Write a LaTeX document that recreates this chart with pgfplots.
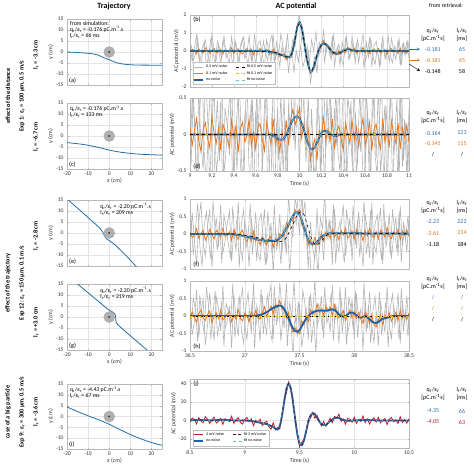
\documentclass[border=0pt]{standalone}
\usepackage{fontspec}
\setmainfont{Carlito}
\usepackage{pgfplots}
\usepackage{pgfplotstable}
\pgfplotsset{compat=1.18}
\definecolor{cgray}{RGB}{180,180,180}
\definecolor{corange}{RGB}{232,118,30}
\definecolor{cblue}{RGB}{28,96,165}
\definecolor{ccyan}{RGB}{90,195,235}
\definecolor{cyellow}{RGB}{237,177,32}
\definecolor{cred}{RGB}{195,25,35}
\definecolor{cdred}{RGB}{110,15,25}
\definecolor{ctraj}{RGB}{35,110,165}
\definecolor{tblue}{RGB}{45,110,180}
\definecolor{torange}{RGB}{215,120,35}
\newcommand{\fs}[1]{\fontsize{#1}{#1}\selectfont}
\newcommand{\sub}[1]{\textsubscript{#1}}

% ---------------- data ----------------
\pgfplotstableread[row sep=\\]{y\\ 0.42\\ -0.61\\ 0.15\\ 0.88\\ -0.34\\ -0.92\\ 0.27\\ 0.63\\ -0.18\\ -0.71\\ 0.95\\ 0.08\\ -0.47\\ 0.36\\ -0.83\\ 0.54\\ 0.21\\ -0.29\\ -0.66\\ 0.79\\ -0.12\\ 0.47\\ -0.95\\ 0.31\\ 0.69\\ -0.41\\ -0.07\\ 0.85\\ -0.58\\ 0.12\\ -0.77\\ 0.39\\ 0.58\\ -0.22\\ -0.89\\ 0.64\\ 0.00\\ -0.57\\ 0.84\\ -0.46\\ 0.03\\ -0.87\\ 0.26\\ -0.41\\ 0.42\\ -1.21\\ -0.04\\ 0.66\\ 0.27\\ 1.32\\ 2.17\\ 0.52\\ 0.93\\ -0.45\\ 0.01\\ -1.77\\ -0.96\\ -0.25\\ -1.21\\ 0.47\\ 0.16\\ 1.14\\ -0.15\\ 0.39\\ -0.30\\ 0.84\\ -0.84\\ 0.07\\ 0.37\\ -0.34\\ -0.82\\ 0.70\\ 0.15\\ -0.38\\ 0.82\\ -0.29\\ 0.41\\ -0.65\\ 0.19\\ 0.93\\ -0.57\\ -0.11\\ 0.68\\ -0.88\\ 0.29\\ 0.55\\ -0.23\\ -0.74\\ 0.86\\ -0.39\\ 0.13\\ -0.59\\ 0.71\\ 0.02\\ -0.49\\ 0.64\\ -0.81\\ 0.35\\ -0.16\\ 0.52\\ -0.44\\}\grayb
\pgfplotstableread[row sep=\\]{y\\ -0.07\\ 0.10\\ 0.04\\ -0.15\\ 0.12\\ -0.02\\ -0.10\\ 0.17\\ 0.05\\ -0.13\\ 0.02\\ 0.14\\ -0.11\\ -0.04\\ 0.09\\ -0.17\\ 0.07\\ 0.03\\ -0.06\\ 0.18\\ -0.13\\ 0.01\\ 0.12\\ -0.08\\ -0.16\\ 0.05\\ 0.13\\ -0.03\\ 0.10\\ -0.19\\ 0.06\\ -0.02\\ 0.15\\ -0.10\\ 0.04\\ 0.10\\ -0.11\\ -0.20\\ 0.10\\ -0.16\\ -0.06\\ -0.31\\ -0.21\\ -0.16\\ -0.49\\ -0.28\\ -0.34\\ 0.21\\ 0.61\\ 1.38\\ 1.45\\ 1.42\\ 0.66\\ -0.27\\ -0.66\\ -1.26\\ -1.03\\ -0.88\\ -0.16\\ 0.14\\ 0.27\\ 0.58\\ 0.33\\ 0.26\\ 0.21\\ -0.19\\ -0.05\\ -0.19\\ 0.03\\ -0.17\\ 0.05\\ -0.08\\ 0.21\\ 0.13\\ -0.03\\ 0.16\\ -0.12\\ 0.02\\ -0.05\\ 0.19\\ -0.09\\ 0.06\\ -0.15\\ 0.03\\ 0.11\\ -0.07\\ 0.14\\ -0.11\\ -0.01\\ 0.08\\ -0.18\\ 0.05\\ 0.13\\ -0.06\\ 0.02\\ -0.13\\ 0.16\\ -0.09\\ 0.04\\ -0.12\\ 0.07\\}\orangeb
\pgfplotstableread[row sep=\\]{y\\ -0.35\\ 0.52\\ 0.18\\ -0.74\\ 0.61\\ -0.12\\ -0.48\\ 0.83\\ 0.27\\ -0.66\\ 0.09\\ 0.71\\ -0.55\\ -0.21\\ 0.44\\ -0.87\\ 0.36\\ 0.13\\ -0.29\\ 0.92\\ -0.63\\ 0.05\\ 0.58\\ -0.41\\ -0.79\\ 0.24\\ 0.67\\ -0.15\\ 0.49\\ -0.93\\ 0.31\\ -0.08\\ 0.76\\ -0.52\\ 0.19\\ 0.62\\ -0.37\\ -0.71\\ 0.86\\ -0.27\\ 0.37\\ -0.71\\ 0.00\\ 0.50\\ -0.86\\ 0.41\\ -0.05\\ 1.01\\ -0.22\\ 0.41\\ -0.51\\ 0.74\\ 0.34\\ -0.38\\ 0.56\\ -0.76\\ -0.09\\ -1.08\\ 0.36\\ 0.18\\ -0.40\\ 0.83\\ -0.21\\ 0.07\\ 0.66\\ -0.70\\ 0.36\\ -0.15\\ 0.84\\ -0.51\\ 0.17\\ -0.82\\ 0.53\\ 0.26\\ -0.38\\ 0.72\\ -0.61\\ 0.09\\ -0.24\\ 0.96\\ -0.47\\ 0.32\\ -0.77\\ 0.14\\ 0.57\\ -0.33\\ 0.68\\ -0.54\\ -0.06\\ 0.41\\ -0.89\\ 0.25\\ 0.63\\ -0.28\\ 0.12\\ -0.67\\ 0.79\\ -0.44\\ 0.21\\ -0.58\\ 0.36\\}\grayd
\pgfplotstableread[row sep=\\]{y\\ 0.11\\ -0.15\\ 0.04\\ 0.22\\ -0.09\\ -0.23\\ 0.07\\ 0.16\\ -0.05\\ -0.18\\ 0.24\\ 0.02\\ -0.12\\ 0.09\\ -0.21\\ 0.14\\ 0.05\\ -0.07\\ -0.17\\ 0.20\\ -0.03\\ 0.12\\ -0.24\\ 0.08\\ 0.17\\ -0.10\\ -0.02\\ 0.21\\ -0.15\\ 0.03\\ -0.19\\ 0.10\\ 0.15\\ -0.06\\ -0.22\\ 0.17\\ 0.01\\ -0.13\\ 0.21\\ -0.13\\ -0.01\\ -0.24\\ 0.05\\ -0.09\\ 0.19\\ -0.15\\ 0.21\\ 0.35\\ 0.13\\ 0.24\\ 0.36\\ -0.05\\ 0.14\\ -0.10\\ 0.07\\ -0.35\\ -0.18\\ -0.06\\ -0.35\\ 0.05\\ -0.03\\ 0.23\\ -0.08\\ 0.07\\ -0.09\\ 0.21\\ -0.20\\ 0.04\\ 0.12\\ -0.07\\ -0.21\\ 0.16\\ 0.01\\ -0.12\\ 0.19\\ -0.08\\ 0.10\\ -0.16\\ 0.05\\ 0.23\\ -0.14\\ -0.03\\ 0.17\\ -0.22\\ 0.07\\ 0.14\\ -0.06\\ -0.19\\ 0.22\\ -0.10\\ 0.03\\ -0.15\\ 0.18\\ 0.01\\ -0.12\\ 0.16\\ -0.20\\ 0.09\\ -0.04\\ 0.13\\ -0.11\\}\oranged
\pgfplotstableread[row sep=\\]{y\\ -0.42\\ 0.61\\ -0.15\\ -0.88\\ 0.34\\ 0.92\\ -0.27\\ -0.63\\ 0.18\\ 0.71\\ -0.95\\ -0.08\\ 0.47\\ -0.36\\ 0.83\\ -0.54\\ -0.21\\ 0.29\\ 0.66\\ -0.79\\ 0.11\\ -0.49\\ 0.92\\ -0.35\\ -0.74\\ 0.35\\ -0.01\\ -0.94\\ 0.47\\ -0.24\\ 0.63\\ -0.54\\ -0.75\\ 0.04\\ 0.70\\ -0.86\\ -0.24\\ 0.31\\ -1.12\\ 0.16\\ -0.35\\ 0.57\\ -0.53\\ 0.19\\ -0.59\\ 1.13\\ 0.14\\ -0.09\\ 1.03\\ 0.65\\ -0.02\\ 1.18\\ -0.13\\ 0.25\\ -0.98\\ 0.35\\ -0.39\\ -0.73\\ 0.74\\ -0.52\\ 0.10\\ -0.76\\ 0.52\\ -0.13\\ 0.40\\ -0.89\\ 0.71\\ -0.23\\ -0.51\\ 0.27\\ 0.84\\ -0.62\\ -0.05\\ 0.46\\ -0.77\\ 0.31\\ -0.41\\ 0.65\\ -0.19\\ -0.93\\ 0.57\\ 0.11\\ -0.68\\ 0.88\\ -0.29\\ -0.55\\ 0.23\\ 0.74\\ -0.86\\ 0.39\\ -0.13\\ 0.59\\ -0.71\\ -0.02\\ 0.49\\ -0.64\\ 0.81\\ -0.35\\ 0.16\\ -0.52\\ 0.44\\}\grayf
\pgfplotstableread[row sep=\\]{y\\ 0.07\\ -0.10\\ -0.04\\ 0.15\\ -0.12\\ 0.02\\ 0.10\\ -0.17\\ -0.05\\ 0.13\\ -0.02\\ -0.14\\ 0.11\\ 0.04\\ -0.09\\ 0.17\\ -0.07\\ -0.03\\ 0.06\\ -0.18\\ 0.12\\ -0.03\\ -0.15\\ 0.04\\ 0.11\\ -0.11\\ -0.21\\ -0.06\\ -0.21\\ 0.07\\ -0.20\\ -0.13\\ -0.32\\ -0.08\\ -0.23\\ -0.32\\ -0.13\\ -0.06\\ -0.38\\ -0.14\\ -0.26\\ 0.01\\ -0.06\\ -0.06\\ 0.32\\ 0.20\\ 0.44\\ 0.36\\ 0.69\\ 0.59\\ 0.70\\ 0.28\\ 0.14\\ 0.07\\ -0.31\\ -0.16\\ -0.32\\ -0.10\\ -0.31\\ -0.19\\ -0.01\\ -0.20\\ 0.04\\ 0.00\\ -0.11\\ 0.14\\ -0.08\\ 0.03\\ -0.17\\ 0.10\\ -0.03\\ 0.16\\ -0.11\\ -0.05\\ 0.08\\ -0.14\\ 0.12\\ -0.02\\ 0.05\\ -0.19\\ 0.09\\ -0.06\\ 0.15\\ -0.03\\ -0.11\\ 0.07\\ -0.14\\ 0.11\\ 0.01\\ -0.08\\ 0.18\\ -0.05\\ -0.13\\ 0.06\\ -0.02\\ 0.13\\ -0.16\\ 0.09\\ -0.04\\ 0.12\\ -0.07\\}\orangef
\pgfplotstableread[row sep=\\]{y\\ 0.35\\ -0.52\\ -0.18\\ 0.74\\ -0.61\\ 0.12\\ 0.48\\ -0.83\\ -0.27\\ 0.66\\ -0.09\\ -0.71\\ 0.55\\ 0.21\\ -0.44\\ 0.87\\ -0.36\\ -0.13\\ 0.29\\ -0.92\\ 0.63\\ -0.05\\ -0.58\\ 0.41\\ 0.79\\ -0.24\\ -0.67\\ 0.15\\ -0.49\\ 0.93\\ -0.30\\ 0.10\\ -0.73\\ 0.57\\ -0.11\\ -0.51\\ 0.52\\ 0.90\\ -0.65\\ 0.49\\ -0.14\\ 0.94\\ 0.21\\ -0.35\\ 0.94\\ -0.41\\ -0.03\\ -1.16\\ 0.03\\ -0.61\\ 0.33\\ -0.89\\ -0.46\\ 0.26\\ -0.69\\ 0.63\\ -0.01\\ 1.04\\ -0.32\\ -0.06\\ 0.58\\ -0.63\\ 0.41\\ 0.12\\ -0.47\\ 0.88\\ -0.21\\ 0.25\\ -0.80\\ 0.51\\ -0.19\\ 0.82\\ -0.48\\ -0.17\\ 0.48\\ -0.65\\ 0.63\\ -0.12\\ 0.20\\ -0.98\\ 0.47\\ -0.35\\ 0.68\\ -0.29\\ -0.76\\ 0.13\\ -0.85\\ 0.42\\ -0.02\\ -0.47\\ 0.84\\ -0.28\\ -0.64\\ 0.28\\ -0.12\\ 0.67\\ -0.79\\ 0.44\\ -0.21\\ 0.58\\ -0.36\\}\grayh
\pgfplotstableread[row sep=\\]{y\\ -0.08\\ 0.12\\ -0.03\\ -0.18\\ 0.07\\ 0.18\\ -0.05\\ -0.13\\ 0.04\\ 0.14\\ -0.19\\ -0.02\\ 0.09\\ -0.07\\ 0.17\\ -0.11\\ -0.04\\ 0.06\\ 0.13\\ -0.16\\ 0.02\\ -0.09\\ 0.19\\ -0.06\\ -0.14\\ 0.08\\ 0.01\\ -0.17\\ 0.12\\ -0.02\\ 0.16\\ -0.06\\ -0.09\\ 0.09\\ 0.26\\ -0.02\\ 0.14\\ 0.29\\ 0.05\\ 0.33\\ 0.25\\ 0.44\\ 0.18\\ 0.23\\ -0.07\\ 0.10\\ -0.27\\ -0.47\\ -0.34\\ -0.44\\ -0.51\\ -0.14\\ -0.25\\ -0.03\\ -0.16\\ 0.18\\ 0.08\\ 0.04\\ 0.34\\ 0.09\\ 0.20\\ 0.01\\ 0.26\\ 0.13\\ 0.26\\ 0.01\\ 0.31\\ 0.07\\ -0.05\\ 0.05\\ 0.15\\ -0.12\\ 0.04\\ 0.18\\ -0.05\\ 0.13\\ -0.06\\ 0.10\\ -0.08\\ -0.21\\ 0.11\\ -0.01\\ -0.23\\ 0.03\\ -0.25\\ -0.31\\ -0.12\\ 0.03\\ -0.25\\ 0.02\\ -0.08\\ 0.09\\ -0.15\\ 0.00\\ 0.10\\ -0.13\\ 0.16\\ -0.07\\ 0.03\\ -0.10\\ 0.09\\}\orangeh
\pgfplotstableread[row sep=\\]{y\\ -1.8\\ 2.6\\ 0.9\\ -3.7\\ 3.1\\ -0.6\\ -2.4\\ 4.2\\ 1.4\\ -3.3\\ 0.5\\ 3.6\\ -2.8\\ -1.1\\ 2.2\\ -4.4\\ 1.8\\ 0.7\\ -1.5\\ 4.6\\ -3.2\\ 0.3\\ 2.9\\ -2.1\\ -4.0\\ 1.2\\ 3.1\\ -1.3\\ 1.7\\ -5.7\\ 0.1\\ -2.4\\ 1.3\\ -5.6\\ -2.5\\ -0.9\\ -6.9\\ -9.6\\ -2.6\\ -10.2\\ -7.8\\ -9.2\\ 5.4\\ 22.8\\ 29.7\\ 41.7\\ 34.0\\ 24.1\\ -0.3\\ -14.2\\ -28.7\\ -24.0\\ -20.6\\ -13.7\\ 1.5\\ 2.1\\ 8.6\\ 2.4\\ 5.4\\ 0.1\\ -6.1\\ -1.1\\ -6.3\\ -2.8\\ 2.3\\ -2.5\\ 4.4\\ 2.3\\ 6.8\\ -1.1\\ 1.4\\ -4.1\\ 2.2\\ 1.3\\ -1.9\\ 3.6\\ -3.1\\ 0.5\\ -1.2\\ 4.8\\ -2.4\\ 1.6\\ -3.9\\ 0.7\\ 2.9\\ -1.7\\ 3.4\\ -2.7\\ -0.3\\ 2.1\\ -4.5\\ 1.3\\ 3.2\\ -1.4\\ 0.6\\ -3.4\\ 4.0\\ -2.2\\ 1.1\\ -2.9\\ 1.8\\}\redj

\pgfplotstableread[row sep=\\]{t s\\ 9.00 0\\ 9.68 0\\ 9.70 -0.02\\ 9.72 -0.04\\ 9.74 -0.06\\ 9.76 -0.08\\ 9.78 -0.11\\ 9.80 -0.15\\ 9.82 -0.18\\ 9.84 -0.22\\ 9.86 -0.27\\ 9.88 -0.32\\ 9.90 -0.35\\ 9.92 -0.30\\ 9.94 0.05\\ 9.96 0.70\\ 9.98 1.35\\ 10.00 1.60\\ 10.02 1.30\\ 10.04 0.60\\ 10.06 -0.20\\ 10.08 -0.80\\ 10.10 -1.15\\ 10.12 -1.05\\ 10.14 -0.70\\ 10.16 -0.25\\ 10.18 0.10\\ 10.20 0.35\\ 10.22 0.42\\ 10.24 0.38\\ 10.26 0.25\\ 10.28 0.08\\ 10.30 -0.05\\ 10.32 -0.13\\ 10.34 -0.16\\ 10.36 -0.14\\ 10.38 -0.07\\ 10.40 0.02\\ 10.42 0.08\\ 10.44 0.10\\ 10.46 0.08\\ 10.48 0.05\\ 10.50 0.02\\ 10.56 0\\ 11.00 0\\}\sigb
\pgfplotstableread[row sep=\\]{t s\\ 9.00 0\\ 9.70 -0.03\\ 9.80 -0.16\\ 9.86 -0.28\\ 9.90 -0.34\\ 9.92 -0.28\\ 9.94 0.08\\ 9.96 0.70\\ 9.98 1.30\\ 10.00 1.52\\ 10.02 1.25\\ 10.04 0.58\\ 10.06 -0.18\\ 10.08 -0.76\\ 10.10 -1.08\\ 10.12 -1.00\\ 10.14 -0.66\\ 10.16 -0.22\\ 10.18 0.12\\ 10.20 0.34\\ 10.22 0.40\\ 10.24 0.36\\ 10.26 0.23\\ 10.28 0.07\\ 10.30 -0.05\\ 10.34 -0.15\\ 10.38 -0.07\\ 10.44 0.09\\ 10.50 0.02\\ 10.56 0\\ 11.00 0\\}\fitb
\pgfplotstableread[row sep=\\]{t s\\ 9.00 0\\ 9.74 0\\ 9.76 -0.02\\ 9.78 -0.04\\ 9.80 -0.06\\ 9.82 -0.07\\ 9.84 -0.07\\ 9.86 -0.05\\ 9.88 0.00\\ 9.90 0.07\\ 9.92 0.14\\ 9.94 0.20\\ 9.96 0.24\\ 9.98 0.25\\ 10.00 0.22\\ 10.02 0.15\\ 10.04 0.06\\ 10.06 -0.04\\ 10.08 -0.13\\ 10.10 -0.19\\ 10.12 -0.20\\ 10.14 -0.17\\ 10.16 -0.11\\ 10.18 -0.04\\ 10.20 0.02\\ 10.22 0.05\\ 10.24 0.05\\ 10.26 0.03\\ 10.28 0.01\\ 10.30 -0.01\\ 10.32 -0.02\\ 10.34 -0.02\\ 10.36 -0.01\\ 10.38 0\\ 11.00 0\\}\sigd
\pgfplotstableread[row sep=\\]{t s\\ 36.50 0\\ 36.86 0\\ 36.90 -0.01\\ 36.94 -0.03\\ 36.98 -0.05\\ 37.02 -0.08\\ 37.06 -0.11\\ 37.10 -0.14\\ 37.14 -0.17\\ 37.18 -0.19\\ 37.22 -0.20\\ 37.26 -0.20\\ 37.30 -0.17\\ 37.32 -0.12\\ 37.34 -0.05\\ 37.36 0.05\\ 37.38 0.15\\ 37.40 0.27\\ 37.42 0.40\\ 37.44 0.52\\ 37.46 0.60\\ 37.48 0.62\\ 37.50 0.55\\ 37.52 0.40\\ 37.54 0.20\\ 37.56 0.00\\ 37.58 -0.17\\ 37.60 -0.27\\ 37.62 -0.30\\ 37.64 -0.28\\ 37.66 -0.22\\ 37.68 -0.15\\ 37.70 -0.09\\ 37.72 -0.04\\ 37.74 -0.01\\ 37.76 0.01\\ 37.78 0.02\\ 37.90 0.02\\ 38.50 0.01\\}\sigf
\pgfplotstableread[row sep=\\]{t s\\ 36.50 0\\ 36.90 0\\ 36.98 -0.03\\ 37.06 -0.07\\ 37.14 -0.12\\ 37.22 -0.17\\ 37.28 -0.21\\ 37.32 -0.22\\ 37.36 -0.18\\ 37.38 -0.10\\ 37.40 0.02\\ 37.42 0.14\\ 37.44 0.28\\ 37.46 0.42\\ 37.48 0.54\\ 37.50 0.62\\ 37.52 0.64\\ 37.54 0.56\\ 37.56 0.38\\ 37.58 0.16\\ 37.60 -0.05\\ 37.62 -0.20\\ 37.64 -0.29\\ 37.66 -0.31\\ 37.68 -0.27\\ 37.70 -0.20\\ 37.72 -0.12\\ 37.74 -0.06\\ 37.78 0.00\\ 37.90 0.02\\ 38.50 0.01\\}\fitf
\pgfplotstableread[row sep=\\]{t s\\ 36.50 0\\ 37.08 0\\ 37.10 0.01\\ 37.12 0.02\\ 37.14 0.03\\ 37.16 0.05\\ 37.18 0.08\\ 37.20 0.11\\ 37.22 0.15\\ 37.24 0.19\\ 37.26 0.23\\ 37.28 0.26\\ 37.30 0.29\\ 37.32 0.30\\ 37.34 0.28\\ 37.36 0.20\\ 37.38 0.08\\ 37.40 -0.07\\ 37.42 -0.22\\ 37.44 -0.35\\ 37.46 -0.43\\ 37.48 -0.45\\ 37.50 -0.40\\ 37.52 -0.30\\ 37.54 -0.18\\ 37.56 -0.08\\ 37.58 0.00\\ 37.60 0.06\\ 37.62 0.10\\ 37.64 0.13\\ 37.66 0.15\\ 37.68 0.16\\ 37.70 0.16\\ 37.72 0.15\\ 37.74 0.15\\ 37.76 0.16\\ 37.78 0.18\\ 37.80 0.19\\ 37.82 0.17\\ 37.84 0.12\\ 37.86 0.05\\ 37.88 0.00\\ 37.90 -0.02\\ 37.92 0.00\\ 37.94 0.05\\ 37.96 0.09\\ 37.98 0.10\\ 38.00 0.07\\ 38.02 0.02\\ 38.04 -0.03\\ 38.06 -0.04\\ 38.08 -0.02\\ 38.10 0.00\\ 38.12 -0.03\\ 38.14 -0.09\\ 38.16 -0.15\\ 38.18 -0.19\\ 38.20 -0.20\\ 38.22 -0.17\\ 38.24 -0.12\\ 38.26 -0.08\\ 38.28 -0.06\\ 38.30 -0.05\\ 38.32 -0.03\\ 38.34 -0.01\\ 38.36 0\\ 38.50 0\\}\sigh
\pgfplotstableread[row sep=\\]{t s\\ 8.50 0\\ 8.60 0.5\\ 8.70 0\\ 8.80 0.8\\ 8.90 0\\ 9.00 0\\ 9.04 -0.5\\ 9.08 -1\\ 9.12 -2\\ 9.16 -3\\ 9.20 -4\\ 9.24 -6\\ 9.26 -7\\ 9.28 -9\\ 9.30 -10\\ 9.32 -6\\ 9.34 5\\ 9.36 20\\ 9.38 34\\ 9.40 40\\ 9.42 35\\ 9.44 20\\ 9.46 2\\ 9.48 -15\\ 9.50 -25\\ 9.52 -27\\ 9.54 -22\\ 9.56 -12\\ 9.58 -2\\ 9.60 5\\ 9.62 8\\ 9.64 7\\ 9.66 3\\ 9.68 -1\\ 9.70 -4\\ 9.72 -5\\ 9.74 -5\\ 9.76 -3\\ 9.78 -1\\ 9.80 1\\ 9.82 2.5\\ 9.84 3\\ 9.86 2.5\\ 9.88 1.5\\ 9.90 0.5\\ 9.92 0\\ 9.94 -0.5\\ 10.00 0\\ 10.10 0.5\\ 10.20 0\\ 10.50 0\\}\sigj

\pgfplotsset{
  base/.style={scale only axis,
    axis line style={gray!55, line width=0.4pt},
    tick style={gray!60, line width=0.3pt}, major tick length=1.5pt, tick align=inside,
    tick label style={font=\fs{5.6}, text=black!80},
    label style={font=\fs{5.9}, text=black!80},
    grid=major, grid style={gray!20, line width=0.3pt},
    /pgf/number format/assume math mode=true,
    xticklabel style={yshift=1pt}, xlabel style={yshift=3.5pt}},
  traj/.style={base, width=95pt, height=66pt, xmin=-20, xmax=25, ymin=-15, ymax=15,
    xtick={-20,-10,0,10,20}, ytick={-15,-10,-5,0,5,10,15},
    ylabel={y (cm)}, ylabel style={yshift=-4pt}},
  acp/.style={base, width=219pt, ylabel={AC potential (mV)}, ylabel style={yshift=-4pt}},
  lg/.style={legend style={at={(rel axis cs:0.012,0.03)}, anchor=south west,
    font=\fs{4}, draw=gray!50, inner sep=0.6pt, row sep=-1.8pt,
    /tikz/every even column/.append style={column sep=6pt}},
    legend columns=2, legend cell align=left,
    legend image code/.code={\draw[##1] (0pt,0pt) -- (9pt,0pt);}},
}
\newcommand{\particle}{%
  \addplot[only marks, mark=*, mark size=5.5pt, mark options={draw=gray!70, fill=gray!62}] coordinates {(0,0)};
  \addplot[only marks, mark=*, mark size=0.7pt, black!80] coordinates {(0,0)};}
\newcommand{\qtxt}[2]{q\sub{r}/ε\sub{r} = #1 pC.m\textsuperscript{-1}.s\\ l\sub{r}/ε\sub{r} = #2 ms}
\newcommand{\plab}[2]{\node[anchor=#1, font=\fs{6.3}, inner sep=1pt] at #2}

\begin{document}
\begin{tikzpicture}
\path[use as bounding box] (0,0) rectangle (474pt,-469pt);

% ---------------- trajectories ----------------
\begin{axis}[traj, at={(67pt,-85pt)}, anchor=south west, xticklabels={}]
\particle
\addplot[ctraj, line width=0.8pt, smooth] coordinates {(-20,0.0)(-14,-0.3)(-8,-0.8)(-5,-1.5)(-3,-2.4)(0,-3.5)(3,-4.7)(6,-5.4)(10,-5.8)(15,-5.95)(25,-6.0)};
\node[anchor=north west, align=left, font=\fs{5.8}, inner sep=1pt] at (rel axis cs:0.02,0.98) {from simulation:\\ \qtxt{-0.176}{66}};
\plab{south west}{(rel axis cs:0.01,0.01)} {(a)};
\end{axis}

\begin{axis}[traj, at={(67pt,-169pt)}, anchor=south west, xlabel={x (cm)}]
\particle
\addplot[ctraj, line width=0.8pt, smooth] coordinates {(-20,-3.0)(-15,-3.5)(-10,-4.2)(-5,-5.2)(0,-6.4)(5,-7.3)(10,-7.9)(15,-8.3)(25,-8.7)};
\node[anchor=north west, align=left, font=\fs{5.8}, inner sep=1pt] at (rel axis cs:0.02,0.98) {\qtxt{-0.176}{133}};
\plab{south west}{(rel axis cs:0.01,0.01)} {(c)};
\end{axis}

\begin{axis}[traj, at={(67pt,-266pt)}, anchor=south west, xticklabels={}]
\particle
\addplot[ctraj, line width=0.8pt] coordinates {(-20,15.5)(-15,11.3)(-10,7.0)(-6,3.6)(-4.2,2.0)(-3.2,0.6)(-2.4,-1.0)(-1.4,-2.5)(0,-3.5)(1.5,-4.4)(3,-5.6)(8,-10.3)(13,-15.5)};
\node[anchor=north west, align=left, font=\fs{5.8}, inner sep=1pt] at (rel axis cs:0.34,0.97) {\qtxt{-2.20}{209}};
\plab{south west}{(rel axis cs:0.01,0.01)} {(e)};
\end{axis}

\begin{axis}[traj, at={(67pt,-350pt)}, anchor=south west, xlabel={x (cm)}]
\particle
\addplot[ctraj, line width=0.8pt] coordinates {(-16,15.8)(-12,12.6)(-8,9.4)(-4,6.2)(-1,3.8)(1.5,2.3)(2.6,1.5)(3,0.5)(3.1,-1)(3.3,-2.5)(4,-3.5)(6,-5.2)(10,-8.5)(14,-11.8)(18,-15.1)};
\node[anchor=north west, align=left, font=\fs{5.8}, inner sep=1pt] at (rel axis cs:0.34,0.97) {\qtxt{-2.20}{219}};
\plab{south west}{(rel axis cs:0.01,0.01)} {(g)};
\end{axis}

\begin{axis}[traj, height=65pt, at={(67pt,-449pt)}, anchor=south west, xlabel={x (cm)}]
\particle
\addplot[ctraj, line width=0.8pt, smooth] coordinates {(-20,4.4)(-15,2.3)(-10,0.3)(-5,-1.5)(0,-3.6)(5,-6.0)(10,-8.3)(15,-10.3)(20,-12.0)(25,-13.3)};
\node[anchor=north west, align=left, font=\fs{5.8}, inner sep=1pt] at (rel axis cs:0.02,0.98) {\qtxt{-4.43}{67}};
\plab{south west}{(rel axis cs:0.01,0.01)} {(i)};
\end{axis}

% ---------------- AC potential ----------------
\begin{axis}[acp, lg, height=72pt, at={(190pt,-87pt)}, anchor=south west,
  xmin=9, xmax=11, ymin=-2, ymax=2, xtick={9,9.2,9.4,9.6,9.8,10,10.2,10.4,10.6,10.8,11}, xticklabels={},
  ytick={-2,-1,0,1,2}]
\addplot[cgray, line width=0.6pt, forget plot] table[x expr=\coordindex*0.02+9, y=y] {\grayb};
\addplot[cgray, line width=0.6pt, forget plot] table[x expr=\coordindex*0.02+9.01, y=y] {\grayh};
\addplot[corange, line width=0.8pt, forget plot] table[x expr=\coordindex*0.02+9, y=y] {\orangeb};
\addplot[cblue, line width=1.8pt, smooth, forget plot] table[x=t, y=s] {\sigb};
\addplot[cyellow, line width=0.6pt, dash dot, smooth, forget plot] table[x=t, y=s] {\sigb};
\addplot[ccyan, line width=0.6pt, dashed, smooth, forget plot] table[x=t, y=s] {\sigb};
\addplot[black, line width=0.6pt, dashed, smooth, forget plot] table[x=t, y=s] {\fitb};
\addlegendimage{cgray, line width=0.8pt}\addlegendentry{0.5 mV noise}
\addlegendimage{black, dashed, line width=0.6pt}\addlegendentry{fit 0.5 mV noise}
\addlegendimage{corange, line width=1pt}\addlegendentry{0.1 mV noise}
\addlegendimage{cyellow, dash dot, line width=0.6pt}\addlegendentry{fit 0.1 mV noise}
\addlegendimage{cblue, line width=1.8pt}\addlegendentry{no noise}
\addlegendimage{ccyan, dashed, line width=0.6pt}\addlegendentry{fit no noise}
\plab{north west}{(rel axis cs:0.01,0.99)} {(b)};
\end{axis}

\begin{axis}[acp, height=73pt, at={(190pt,-171pt)}, anchor=south west,
  xmin=9, xmax=11, ymin=-0.5, ymax=0.5, xtick={9,9.2,9.4,9.6,9.8,10,10.2,10.4,10.6,10.8,11},
  ytick={-0.5,0,0.5}, xlabel={Time (s)}]
\addplot[cgray, line width=0.6pt] table[x expr=\coordindex*0.02+9, y=y] {\grayd};
\addplot[cgray, line width=0.6pt] table[x expr=\coordindex*0.02+9.01, y=y] {\grayf};
\addplot[corange, line width=0.8pt] table[x expr=\coordindex*0.02+9, y=y] {\oranged};
\addplot[cblue, line width=1.8pt, smooth] table[x=t, y=s] {\sigd};
\addplot[cyellow, line width=0.6pt, dash dot, smooth] table[x=t, y=s] {\sigd};
\addplot[ccyan, line width=0.6pt, dashed, smooth] table[x=t, y=s] {\sigd};
\addplot[black, line width=0.7pt, dashed] coordinates {(9,0)(11,0)};
\plab{south west}{(rel axis cs:0.01,0.01)} {(d)};
\end{axis}

\begin{axis}[acp, height=70pt, at={(190pt,-269pt)}, anchor=south west,
  xmin=36.5, xmax=38.5, ymin=-1, ymax=1, xtick={36.5,37,37.5,38,38.5}, xticklabels={},
  ytick={-1,-0.5,0,0.5,1}]
\addplot[cgray, line width=0.6pt] table[x expr=\coordindex*0.02+36.5, y=y] {\grayf};
\addplot[cgray, line width=0.6pt] table[x expr=\coordindex*0.02+36.51, y=y] {\grayb};
\addplot[corange, line width=0.8pt] table[x expr=\coordindex*0.02+36.5, y=y] {\orangef};
\addplot[cblue, line width=1.8pt, smooth] table[x=t, y=s] {\sigf};
\addplot[cyellow, line width=0.6pt, dash dot, smooth] table[x=t, y=s] {\sigf};
\addplot[ccyan, line width=0.6pt, dashed, smooth] table[x=t, y=s] {\sigf};
\addplot[black, line width=0.6pt, dashed, smooth] table[x=t, y=s] {\fitf};
\plab{south west}{(rel axis cs:0.01,0.01)} {(f)};
\end{axis}

\begin{axis}[acp, height=70pt, at={(190pt,-351pt)}, anchor=south west,
  xmin=36.5, xmax=38.5, ymin=-1, ymax=1, xtick={36.5,37,37.5,38,38.5},
  ytick={-1,-0.5,0,0.5,1}, xlabel={Time (s)}]
\addplot[cgray, line width=0.6pt] table[x expr=\coordindex*0.02+36.5, y=y] {\grayh};
\addplot[cgray, line width=0.6pt] table[x expr=\coordindex*0.02+36.51, y=y] {\grayd};
\addplot[corange, line width=0.8pt] table[x expr=\coordindex*0.02+36.5, y=y] {\orangeh};
\addplot[cblue, line width=1.8pt, smooth] table[x=t, y=s] {\sigh};
\addplot[black, line width=0.6pt, dashed] coordinates {(36.5,0)(38.5,0)};
\addplot[cyellow, line width=0.7pt, dash dot] coordinates {(36.5,0)(38.5,0)};
\plab{south west}{(rel axis cs:0.01,0.01)} {(h)};
\end{axis}

\begin{axis}[acp, lg, height=69pt, at={(190pt,-448pt)}, anchor=south west,
  xmin=8.5, xmax=10.5, ymin=-30, ymax=45, xtick={8.5,9,9.5,10,10.5},
  ytick={-20,0,20,40}, xlabel={Time (s)}]
\addplot[cred, line width=0.8pt, forget plot] table[x expr=\coordindex*0.02+8.5, y=y] {\redj};
\addplot[cblue, line width=1.8pt, smooth, forget plot] table[x=t, y=s] {\sigj};
\addplot[ccyan, line width=0.6pt, dashed, smooth, forget plot] table[x=t, y=s] {\sigj};
\addplot[cdred, line width=0.6pt, densely dashed, smooth, forget plot] table[x=t, y=s] {\sigj};
\addlegendimage{cred, line width=1pt}\addlegendentry{3 mV noise}
\addlegendimage{cdred, densely dashed, line width=0.6pt}\addlegendentry{fit 3 mV noise}
\addlegendimage{cblue, line width=1.8pt}\addlegendentry{no noise}
\addlegendimage{ccyan, dashed, line width=0.6pt}\addlegendentry{fit no noise}
\plab{north west}{(rel axis cs:0.01,0.99)} {(j)};
\end{axis}

% ---------------- titles ----------------
\node[font=\bfseries\fs{8}] at (114pt,-6pt) {Trajectory};
\node[font=\bfseries\fs{8}] at (296pt,-6pt) {AC potential};
\node[font=\fs{5.8}] at (446pt,-6pt) {from retrieval:};

% ---------------- left labels ----------------
\begin{scope}[every node/.style={rotate=90, font=\bfseries\fs{6.3}}]
\node at (8pt,-96pt) {effect of the distance};
\node at (22pt,-96pt) {Exp 1: ε\sub{r} = 100 µm, 0.5 m/s};
\node at (36pt,-55pt) {l\sub{r} = -3.3 cm};
\node at (36pt,-137pt) {l\sub{r} = -6.7 cm};
\node at (8pt,-283pt) {effect of the trajectory};
\node at (22pt,-283pt) {Exp 12: ε\sub{r} = 150 µm, 0.1 m/s};
\node at (36pt,-236pt) {l\sub{r} = -2.8 cm};
\node at (36pt,-322pt) {l\sub{r} = +3.0 cm};
\node at (8pt,-412pt) {case of a big particle};
\node at (22pt,-412pt) {Exp 9: ε\sub{r} = 300 µm, 0.5 m/s};
\node at (36pt,-412pt) {l\sub{r} = -3.6 cm};
\end{scope}

% ---------------- retrieval table ----------------
\begin{scope}[every node/.style={font=\fs{6}, inner sep=0pt}]
\foreach \y in {31,113,203,279,390}{
  \node at (433pt,-\y pt) {q\sub{r}/ε\sub{r}};
  \node at (462pt,-\y pt) {l\sub{r}/ε\sub{r}};
  \node at (433pt,-\y pt-7.5pt) {{[}pC.m\textsuperscript{-1}s{]}};
  \node at (462pt,-\y pt-7.5pt) {{[}ms{]}};
}
\node[text=tblue] at (433pt,-49pt) {-0.181}; \node[text=tblue] at (462pt,-49pt) {65};
\node[text=torange] at (433pt,-60pt) {-0.181}; \node[text=torange] at (462pt,-60pt) {65};
\node at (433pt,-71pt) {-0.148}; \node at (462pt,-71pt) {58};
\node[text=tblue] at (433pt,-133pt) {-0.164}; \node[text=tblue] at (462pt,-133pt) {123};
\node[text=torange] at (433pt,-144pt) {-0.145}; \node[text=torange] at (462pt,-144pt) {115};
\node at (433pt,-155pt) {/}; \node at (462pt,-155pt) {/};
\node[text=tblue] at (433pt,-222pt) {-2.23}; \node[text=tblue] at (462pt,-222pt) {222};
\node[text=torange] at (433pt,-233pt) {-2.61}; \node[text=torange] at (462pt,-233pt) {234};
\node at (433pt,-244pt) {-1.18}; \node at (462pt,-244pt) {184};
\node[text=tblue] at (433pt,-298pt) {/}; \node[text=tblue] at (462pt,-298pt) {/};
\node[text=torange] at (433pt,-309pt) {/}; \node[text=torange] at (462pt,-309pt) {/};
\node at (433pt,-320pt) {/}; \node at (462pt,-320pt) {/};
\node[text=tblue] at (433pt,-411pt) {-4.35}; \node[text=tblue] at (462pt,-411pt) {66};
\node[text=cred] at (433pt,-422pt) {-4.05}; \node[text=cred] at (462pt,-422pt) {63};
\end{scope}
\draw[tblue, line width=0.4pt, ->, >=stealth] (409pt,-49pt) -- (420pt,-49pt);
\draw[torange, line width=0.4pt, ->, >=stealth] (409pt,-60pt) -- (420pt,-60pt);
\draw[black, line width=0.4pt, ->, >=stealth] (409pt,-64pt) -- (420pt,-71pt);
\end{tikzpicture}
\end{document}
